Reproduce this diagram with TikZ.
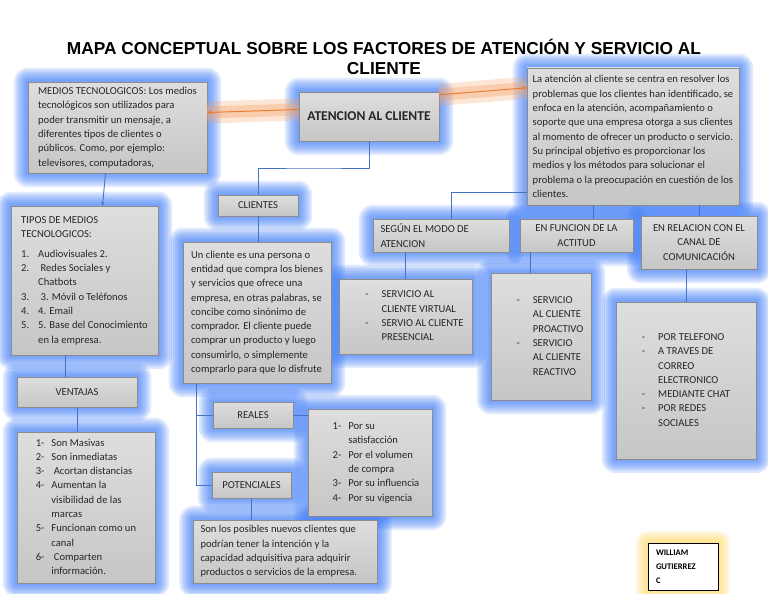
\documentclass[tikz,border=0pt]{standalone}
\usepackage{fontspec}
\setmainfont{Carlito}
\newfontfamily\titlefont{Liberation Sans}
\usetikzlibrary{arrows.meta, positioning, backgrounds, calc}
\definecolor{box-edge}{HTML}{8C8C8C}
\definecolor{box-top}{HTML}{DEDEDE}
\definecolor{box-bot}{HTML}{C6C6C6}
\definecolor{txt-dark}{HTML}{262626}
\definecolor{line-blue}{HTML}{4472C4}
\definecolor{glow-blue}{HTML}{3F7CF6}
\definecolor{glow-yellow}{HTML}{FFD75E}
\definecolor{arr-orange}{HTML}{ED7D31}
\definecolor{glow-orange}{HTML}{F4A46C}

\begin{document}
\begin{tikzpicture}[
  x=1pt, y=-1pt,
  box/.style={rectangle, draw=box-edge, top color=box-top, bottom color=box-bot,
              text=txt-dark, font=\fontsize{10.6}{14.3}\selectfont, inner sep=0pt},
  link/.style={line-blue, line width=0.9pt},
  oarr/.style={-{Stealth[length=5pt, width=4pt]}, arr-orange, line width=1pt,
               preaction={draw=glow-orange, -, line width=22pt, opacity=.28},
               preaction={draw=glow-orange, -, line width=12pt, opacity=.38}}
]
  \useasboundingbox (0,0) rectangle (768,594);

  % Title
  \node[font=\titlefont\bfseries\fontsize{17.3}{20}\selectfont, align=center] (title) at (384,57)
       {MAPA CONCEPTUAL SOBRE LOS FACTORES DE ATENCIÓN Y SERVICIO AL\\CLIENTE};

  % Top row
  \node[box, minimum width=140pt, minimum height=49pt,
        font=\bfseries\fontsize{13.5}{15}\selectfont] (atencion) at (369,116.5) {ATENCION AL CLIENTE};
  \node[box, minimum width=179pt, minimum height=91pt, align=left] (medios) at (117.5,127.5)
       {MEDIOS TECNOLOGICOS: Los medios\\tecnológicos son utilizados para\\poder transmitir un mensaje, a\\diferentes tipos de clientes o\\públicos. Como, por ejemplo:\\televisores, computadoras,};
  \node[box, minimum width=212pt, minimum height=137pt, align=left] (atdef) at (633,136.5)
       {La atención al cliente se centra en resolver los\\problemas que los clientes han identificado, se\\enfoca en la atención, acompañamiento o\\soporte que una empresa otorga a sus clientes\\al momento de ofrecer un producto o servicio.\\Su principal objetivo es proporcionar los\\medios y los métodos para solucionar el\\problema o la preocupación en cuestión de los\\clientes.};

  % Left column
  \node[box, minimum width=147pt, minimum height=149pt] (tipos) at (84.5,280.5)
       {\begin{tabular}{@{}l@{\hspace{9pt}}l@{}}
        \multicolumn{2}{@{}l@{}}{TIPOS DE MEDIOS}\\
        \multicolumn{2}{@{}l@{}}{TECNOLOGICOS:}\\[5pt]
        1. & Audiovisuales 2.\\
        2. & ~Redes Sociales y\\
           & Chatbots\\
        3. & ~3. Móvil o Teléfonos\\
        4. & 4. Email\\
        5. & 5. Base del Conocimiento\\
           & en la empresa.
        \end{tabular}};
  \node[box, minimum width=120pt, minimum height=30pt] (ventajas) at (77,392) {VENTAJAS};
  \node[box, minimum width=138pt, minimum height=151pt] (ventlst) at (86,507.5)
       {\begin{tabular}{@{}l@{\hspace{7pt}}l@{}}
        1- & Son Masivas\\
        2- & Son inmediatas\\
        3- & ~Acortan distancias\\
        4- & Aumentan la\\
           & visibilidad de las\\
           & marcas\\
        5- & Funcionan como un\\
           & canal\\
        6- & ~Comparten\\
           & información.
        \end{tabular}};

  % Clients column
  \node[box, minimum width=80pt, minimum height=21pt] (clientes) at (258,205.5) {CLIENTES};
  \node[box, minimum width=148pt, minimum height=141pt, align=left] (defcli) at (257,312.5)
       {Un cliente es una persona o\\entidad que compra los bienes\\y servicios que ofrece una\\empresa, en otras palabras, se\\concibe como sinónimo de\\comprador. El cliente puede\\comprar un producto y luego\\consumirlo, o simplemente\\comprarlo para que lo disfrute};
  \node[box, minimum width=80pt, minimum height=26pt] (reales) at (253,415) {REALES};
  \node[box, minimum width=124pt, minimum height=107pt] (realst) at (370,462.5)
       {\begin{tabular}{@{\hspace{12pt}}l@{\hspace{7pt}}l@{}}
        1- & Por su\\
           & satisfacción\\
        2- & Por el volumen\\
           & de compra\\
        3- & Por su influencia\\
        4- & Por su vigencia
        \end{tabular}};
  \node[box, minimum width=79pt, minimum height=26pt] (potenciales) at (251.5,485) {POTENCIALES};
  \node[box, minimum width=184pt, minimum height=63pt, text width=170pt, align=flush left] (potdef) at (285.5,551.5)
       {Son los posibles nuevos clientes que\\podrían tener la intención y la\\capacidad adquisitiva para adquirir\\productos o servicios de la empresa.};

  % Right side branches
  \node[box, minimum width=136pt, minimum height=33pt, text width=121pt, align=flush left] (modo) at (441,235.5)
       {SEGÚN EL MODO DE\\ATENCION};
  \node[box, minimum width=113pt, minimum height=33pt, align=center] (actitud) at (576.5,235.5)
       {EN FUNCION DE LA\\ACTITUD};
  \node[box, minimum width=116pt, minimum height=53pt, align=center] (canal) at (699,242.5)
       {EN RELACION CON EL\\CANAL DE\\COMUNICACIÓN};
  \node[box, minimum width=133pt, minimum height=75pt] (modolst) at (405.5,316.5)
       {\begin{tabular}{@{\hspace{18pt}}l@{\hspace{13pt}}l@{}}
        - & SERVICIO AL\\
          & CLIENTE VIRTUAL\\
        - & SERVIO AL CLIENTE\\
          & PRESENCIAL
        \end{tabular}};
  \node[box, minimum width=100pt, minimum height=127pt] (actlst) at (541,336.5)
       {\begin{tabular}{@{\hspace{18pt}}l@{\hspace{13pt}}l@{}}
        - & SERVICIO\\
          & AL CLIENTE\\
          & PROACTIVO\\
        - & SERVICIO\\
          & AL CLIENTE\\
          & REACTIVO
        \end{tabular}};
  \node[box, minimum width=140pt, minimum height=157pt] (canallst) at (686,380.5)
       {\begin{tabular}{@{}l@{\hspace{13pt}}l@{}}
        - & POR TELEFONO\\
        - & A TRAVES DE\\
          & CORREO\\
          & ELECTRONICO\\
        - & MEDIANTE CHAT\\
        - & POR REDES\\
          & SOCIALES
        \end{tabular}};

  % Author
  \node[draw=black, fill=white, minimum width=70pt, minimum height=47pt, text width=54pt, align=flush left,
        font=\bfseries\fontsize{8.6}{14}\selectfont] (autor) at (683,566.5) {WILLIAM\\GUTIERREZ\\C};

  % Soft glow behind the boxes
  \begin{scope}[on background layer]
    \foreach \n in {atencion, medios, atdef, tipos, ventajas, ventlst, clientes, defcli,
                    reales, realst, potenciales, potdef, modo, actitud, canal,
                    modolst, actlst, canallst} {
      \foreach \g in {2,4,...,14}
        \fill[glow-blue, opacity=.16, rounded corners=\g pt]
          ($(\n.south west)+(-\g,\g)$) rectangle ($(\n.north east)+(\g,-\g)$);
    }
    \foreach \g in {2,4,...,12}
      \fill[glow-yellow, opacity=.16, rounded corners=\g pt]
        ($(autor.south west)+(-\g,\g)$) rectangle ($(autor.north east)+(\g,-\g)$);
  \end{scope}

  % Orange arrows
  \draw[oarr] ([yshift=7pt]atencion.west) -- ([yshift=15pt]medios.east);
  \draw[oarr] ([yshift=-3pt]atencion.north east) -- ([yshift=-20pt]atdef.north west);

  % Blue connectors
  \draw[link, -{Stealth[length=4pt, width=3pt]}] ([xshift=-12pt]medios.south) -- ([xshift=18pt]tipos.north);
  \coordinate (vj) at ([xshift=-12pt]ventajas.north);
  \draw[link] (vj) -- (vj |- tipos.south);
  \draw[link] (ventajas.south) -- (ventajas.south |- ventlst.north);

  \draw[link] (atencion.south) |- ($(atencion.south)!.5!(clientes.north)$) -| (clientes.north);
  \draw[link] (clientes.south) -- (clientes.south |- defcli.north);
  \coordinate (dc) at ([xshift=-61pt]defcli.south);
  \draw[link] (dc) |- (reales.west);
  \draw[link] (dc) |- (potenciales.west);
  \draw[link] (reales.east) -- (reales.east -| realst.west);
  \draw[link] (potenciales.south) -- (potenciales.south |- potdef.north);

  \coordinate (md) at ([xshift=10pt]modo.north);
  \draw[link] (md) |- ([yshift=13pt]atdef.south west);
  \coordinate (ac) at ([xshift=17pt]actitud.north);
  \draw[link] (ac) -- (ac |- atdef.south);
  \draw[link] (canal.north) -- (canal.north |- atdef.south);
  \draw[link] (modolst.north) -- (modolst.north |- modo.south);
  \coordinate (al) at ([xshift=-11pt]actlst.north);
  \draw[link] (al) -- (al |- actitud.south);
  \draw[link] (canallst.north) -- (canallst.north |- canal.south);
\end{tikzpicture}
\end{document}
